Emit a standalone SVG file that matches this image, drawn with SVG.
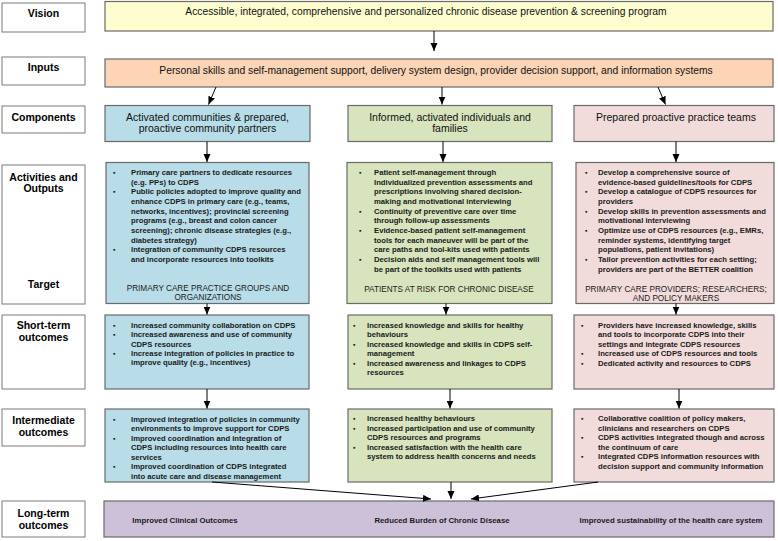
<svg xmlns="http://www.w3.org/2000/svg" width="778" height="541" viewBox="0 0 778 541">
<defs>
<style>
.lb{fill:#fff;stroke:#7a7a7a;stroke-width:1}
.bx{stroke:#6a6a6a;stroke-width:1.2}
.yel{fill:#fdfdd0}.org{fill:#fbd5b6}.blu{fill:#b8dde8}.grn{fill:#d8e4bd}.pnk{fill:#f2dcdb}.lav{fill:#cdc1da}
.lbl{font-family:"Liberation Sans",Arial,sans-serif;font-weight:bold;font-size:10.5px;text-anchor:middle;fill:#000}
.big{font-family:"Liberation Sans",Arial,sans-serif;font-size:10.5px;text-anchor:middle;fill:#111}
.top{font-size:10.3px}
.t{font-family:"Liberation Sans",Arial,sans-serif;font-weight:bold;font-size:7.7px;fill:#1a1a1a}
.bu{font-family:"Liberation Sans","DejaVu Sans",sans-serif;font-size:7px;fill:#1a1a1a}
.tg{font-family:"Liberation Sans",Arial,sans-serif;font-size:8.2px;text-anchor:middle;fill:#1a1a1a}
.lt{font-family:"Liberation Sans",Arial,sans-serif;font-weight:bold;font-size:7.8px;text-anchor:middle;fill:#1a1a1a}
.ar{stroke:#000;stroke-width:1;fill:none;marker-end:url(#ah)}
</style>
<marker id="ah" markerUnits="userSpaceOnUse" markerWidth="9" markerHeight="8" refX="8" refY="3.5" orient="auto">
<path d="M0,0 L8,3.5 L0,7 Z" fill="#000"/>
</marker>
<clipPath id="cpBlueInt"><rect x="105" y="409" width="204" height="72.5"/></clipPath>
</defs>

<!-- Row labels -->
<g id="lbl-vision"><rect class="lb" x="2" y="3" width="83" height="29"/><text class="lbl" x="43.5" y="17">Vision</text></g>
<g id="lbl-inputs"><rect class="lb" x="2" y="57" width="83" height="28"/><text class="lbl" x="43.5" y="70.5">Inputs</text></g>
<g id="lbl-components"><rect class="lb" x="2" y="106" width="83" height="27"/><text class="lbl" x="43.5" y="120.5">Components</text></g>
<g id="lbl-activities"><rect class="lb" x="2" y="165" width="83" height="139"/><text class="lbl" x="43.5" y="180.5">Activities and</text><text class="lbl" x="43.5" y="191.5">Outputs</text><text class="lbl" x="43.5" y="288">Target</text></g>
<g id="lbl-short"><rect class="lb" x="2" y="315" width="83" height="74"/><text class="lbl" x="43.5" y="329">Short-term</text><text class="lbl" x="43.5" y="340.5">outcomes</text></g>
<g id="lbl-intermediate"><rect class="lb" x="2" y="409" width="83" height="37"/><text class="lbl" x="43.5" y="424">Intermediate</text><text class="lbl" x="43.5" y="435.5">outcomes</text></g>
<g id="lbl-long"><rect class="lb" x="2" y="501" width="83" height="36"/><text class="lbl" x="43.5" y="516.5">Long-term</text><text class="lbl" x="43.5" y="528.5">outcomes</text></g>

<!-- Vision / Inputs -->
<g id="vision"><rect class="bx yel" x="105" y="1.5" width="668" height="29.5"/><text class="big top" x="426" y="14.5">Accessible, integrated, comprehensive and personalized chronic disease prevention &amp; screening program</text></g>
<g id="inputs"><rect class="bx org" x="105" y="59" width="668" height="28"/><text class="big top" x="436" y="73.5">Personal skills and self-management support, delivery system design, provider decision support, and information systems</text></g>

<!-- Components -->
<g id="comp-community"><rect class="bx blu" x="105" y="105.5" width="205" height="36"/><text class="big" x="207.5" y="120.5">Activated communities &amp; prepared,</text><text class="big" x="207.5" y="132">proactive community partners</text></g>
<g id="comp-individuals"><rect class="bx grn" x="348" y="105.5" width="204" height="36"/><text class="big" x="450" y="120.5">Informed, activated individuals and</text><text class="big" x="450" y="132">families</text></g>
<g id="comp-teams"><rect class="bx pnk" x="574" y="105.5" width="200" height="36"/><text class="big" x="676" y="120.5">Prepared proactive practice teams</text></g>

<!-- Activities and outputs -->
<g id="act-community"><rect class="bx blu" x="106" y="162.5" width="203" height="141"/>
<text class="bu" x="113" y="175">▪</text><text class="bu" x="113" y="194.3">▪</text><text class="bu" x="113" y="252.2">▪</text>
<text class="t" x="131" y="175">Primary care partners to dedicate resources</text>
<text class="t" x="131" y="184.7">(e.g. PPs) to CDPS</text>
<text class="t" x="131" y="194.3">Public policies adopted to improve quality and</text>
<text class="t" x="131" y="204">enhance CDPS in primary care (e.g., teams,</text>
<text class="t" x="131" y="213.6">networks, incentives); provincial screening</text>
<text class="t" x="131" y="223.3">programs (e.g., breast and colon cancer</text>
<text class="t" x="131" y="232.9">screening); chronic disease strategies (e.g.,</text>
<text class="t" x="131" y="242.6">diabetes strategy)</text>
<text class="t" x="131" y="252.2">Integration of community CDPS resources</text>
<text class="t" x="131" y="261.9">and incorporate resources into toolkits</text>
<text class="tg" x="208" y="290.7">PRIMARY CARE PRACTICE GROUPS AND</text>
<text class="tg" x="208" y="299.7">ORGANIZATIONS</text>
</g>
<g id="act-individuals"><rect class="bx grn" x="347" y="162.5" width="205" height="141"/>
<text class="bu" x="359" y="175">▪</text><text class="bu" x="359" y="213.6">▪</text><text class="bu" x="359" y="232.9">▪</text><text class="bu" x="359" y="261.9">▪</text>
<text class="t" x="374" y="175">Patient self-management through</text>
<text class="t" x="374" y="184.7">Individualized prevention assessments and</text>
<text class="t" x="374" y="194.3">prescriptions involving shared decision-</text>
<text class="t" x="374" y="204">making and motivational interviewing</text>
<text class="t" x="374" y="213.6">Continuity of preventive care over time</text>
<text class="t" x="374" y="223.3">through follow-up assessments</text>
<text class="t" x="374" y="232.9">Evidence-based patient self-management</text>
<text class="t" x="374" y="242.6">tools for each maneuver will be part of the</text>
<text class="t" x="374" y="252.2">care paths and tool-kits used with patients</text>
<text class="t" x="374" y="261.9">Decision aids and self management tools will</text>
<text class="t" x="374" y="271.5">be part of the toolkits used with patients</text>
<text class="tg" x="449" y="292">PATIENTS AT RISK FOR CHRONIC DISEASE</text>
</g>
<g id="act-teams"><rect class="bx pnk" x="576" y="162.5" width="198" height="141"/>
<text class="bu" x="585" y="175">▪</text><text class="bu" x="585" y="194.3">▪</text><text class="bu" x="585" y="213.6">▪</text><text class="bu" x="585" y="232.9">▪</text><text class="bu" x="585" y="261.9">▪</text>
<text class="t" x="598" y="175">Develop a comprehensive source of</text>
<text class="t" x="598" y="184.7">evidence-based guidelines/tools for CDPS</text>
<text class="t" x="598" y="194.3">Develop a catalogue of CDPS resources for</text>
<text class="t" x="598" y="204">providers</text>
<text class="t" x="598" y="213.6">Develop skills in prevention assessments and</text>
<text class="t" x="598" y="223.3">motivational interviewing</text>
<text class="t" x="598" y="232.9">Optimize use of CDPS resources (e.g., EMRs,</text>
<text class="t" x="598" y="242.6">reminder systems, identifying target</text>
<text class="t" x="598" y="252.2">populations, patient invitations)</text>
<text class="t" x="598" y="261.9">Tailor prevention activities for each setting;</text>
<text class="t" x="598" y="271.5">providers are part of the BETTER coalition</text>
<text class="tg" x="676" y="292">PRIMARY CARE PROVIDERS; RESEARCHERS;</text>
<text class="tg" x="676" y="301">AND POLICY MAKERS</text>
</g>

<!-- Short-term outcomes -->
<g id="short-community"><rect class="bx blu" x="105" y="315" width="204" height="74"/>
<text class="bu" x="113" y="327.8">▪</text><text class="bu" x="113" y="337.2">▪</text><text class="bu" x="113" y="356">▪</text>
<text class="t" x="131" y="327.8">Increased community collaboration on CDPS</text>
<text class="t" x="131" y="337.2">Increased awareness and use of community</text>
<text class="t" x="131" y="346.6">CDPS resources</text>
<text class="t" x="131" y="356">Increase integration of policies in practice to</text>
<text class="t" x="131" y="365.4">improve quality (e.g., incentives)</text>
</g>
<g id="short-individuals"><rect class="bx grn" x="348" y="315" width="204" height="74"/>
<text class="bu" x="353" y="327.8">▪</text><text class="bu" x="353" y="346.8">▪</text><text class="bu" x="353" y="365.8">▪</text>
<text class="t" x="367" y="327.8">Increased knowledge and skills for healthy</text>
<text class="t" x="367" y="337.3">behaviours</text>
<text class="t" x="367" y="346.8">Increased knowledge and skills in CDPS self-</text>
<text class="t" x="367" y="356.3">management</text>
<text class="t" x="367" y="365.8">Increased awareness and linkages to CDPS</text>
<text class="t" x="367" y="375.3">resources</text>
</g>
<g id="short-teams"><rect class="bx pnk" x="574" y="315" width="200" height="74"/>
<text class="bu" x="581" y="327.8">▪</text><text class="bu" x="581" y="356.3">▪</text><text class="bu" x="581" y="365.8">▪</text>
<text class="t" x="598" y="327.8">Providers have increased knowledge, skills</text>
<text class="t" x="598" y="337.3">and tools to incorporate CDPS into their</text>
<text class="t" x="598" y="346.8">settings and integrate CDPS resources</text>
<text class="t" x="598" y="356.3">Increased use of CDPS resources and tools</text>
<text class="t" x="598" y="365.8">Dedicated activity and resources to CDPS</text>
</g>

<!-- Intermediate outcomes -->
<g id="int-community"><rect class="bx blu" x="105" y="409" width="204" height="73"/>
<g clip-path="url(#cpBlueInt)">
<text class="bu" x="113" y="421.8">▪</text><text class="bu" x="113" y="440.8">▪</text><text class="bu" x="113" y="469.3">▪</text>
<text class="t" x="131" y="421.8">Improved integration of policies in community</text>
<text class="t" x="131" y="431.3">environments to improve support for CDPS</text>
<text class="t" x="131" y="440.8">Improved coordination and integration of</text>
<text class="t" x="131" y="450.3">CDPS including resources into health care</text>
<text class="t" x="131" y="459.8">services</text>
<text class="t" x="131" y="469.3">Improved coordination of CDPS integrated</text>
<text class="t" x="131" y="478.8">into acute care and disease management</text>
</g>
</g>
<g id="int-individuals"><rect class="bx grn" x="348" y="409" width="204" height="73"/>
<text class="bu" x="353" y="421.3">▪</text><text class="bu" x="353" y="430.8">▪</text><text class="bu" x="353" y="449.8">▪</text>
<text class="t" x="367" y="421.3">Increased healthy behaviours</text>
<text class="t" x="367" y="430.8">Increased participation and use of community</text>
<text class="t" x="367" y="440.3">CDPS resources and programs</text>
<text class="t" x="367" y="449.8">Increased satisfaction with the health care</text>
<text class="t" x="367" y="459.3">system to address health concerns and needs</text>
</g>
<g id="int-teams"><rect class="bx pnk" x="574" y="409" width="200" height="73"/>
<text class="bu" x="581" y="421.3">▪</text><text class="bu" x="581" y="440.3">▪</text><text class="bu" x="581" y="459.3">▪</text>
<text class="t" x="598" y="421.3">Collaborative coalition of policy makers,</text>
<text class="t" x="598" y="430.8">clinicians and researchers on CDPS</text>
<text class="t" x="598" y="440.3">CDPS activities integrated though and across</text>
<text class="t" x="598" y="449.8">the continuum of care</text>
<text class="t" x="598" y="459.3">Integrated CDPS information resources with</text>
<text class="t" x="598" y="468.8">decision support and community information</text>
</g>

<!-- Long-term outcomes -->
<g id="long-term"><rect class="bx lav" x="104" y="501" width="670" height="36"/>
<text class="lt" x="185" y="523">Improved Clinical Outcomes</text>
<text class="lt" x="442" y="523">Reduced Burden of Chronic Disease</text>
<text class="lt" x="671" y="523">Improved sustainability of the health care system</text>
</g>

<!-- Connectors -->
<g id="connectors">
<path class="ar" d="M434,31 L434,51"/>
<path class="ar" d="M216,87 L208.5,104.5"/>
<path class="ar" d="M442,87 L442,104.5"/>
<path class="ar" d="M658,87 L665.5,104.5"/>
<path class="ar" d="M207,141.5 L207,162"/>
<path class="ar" d="M443,141.5 L443,162"/>
<path class="ar" d="M676,141.5 L676,162"/>
<path class="ar" d="M207,303.5 L207,314.5"/>
<path class="ar" d="M446,303.5 L446,314.5"/>
<path class="ar" d="M676,303.5 L676,314.5"/>
<path class="ar" d="M207,389 L207,408.5"/>
<path class="ar" d="M450,389 L450,408.5"/>
<path class="ar" d="M679,389 L679,408.5"/>
<path class="ar" d="M212,482 L431,499"/>
<path class="ar" d="M451,482 L451,499"/>
<path class="ar" d="M598,482 L471,499"/>
</g>
</svg>
